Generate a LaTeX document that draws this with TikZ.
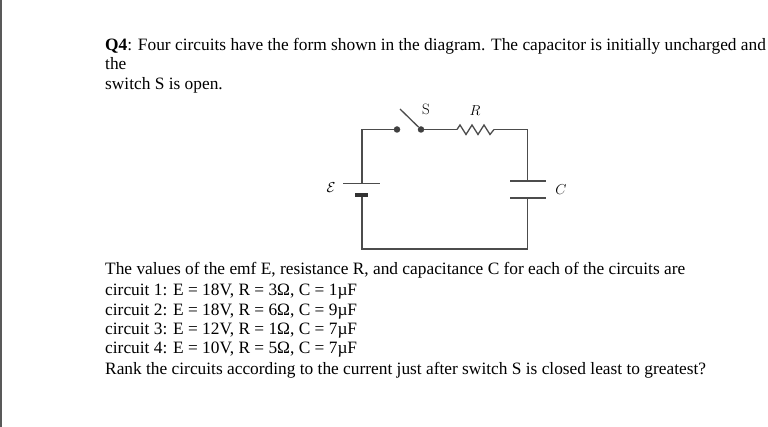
\documentclass[tikz,border=0pt]{standalone}
\usepackage{fontspec}
\setmainfont{Liberation Serif}
\newfontfamily\lmfont{Latin Modern Roman}
\tikzset{
	txt/.style={anchor=base west, inner sep=0pt, font=\fontsize{17.35}{20}\selectfont},
	lbl/.style={inner sep=0pt, font=\lmfont\fontsize{15}{17}\selectfont},
	wire/.style={draw=black!70, line width=1.3pt},
	dot/.style={circle, fill=black!75, inner sep=0pt, minimum size=6.5pt},
}
\begin{document}
\begin{tikzpicture}[x=1pt,y=-1pt]
		\useasboundingbox (0,0) rectangle (768,427);
		\fill [black!65] (0,0) rectangle (1.6,427);

		\node [txt] (q1) at (105,51) {\textbf{Q4}: Four circuits have the form shown in the diagram. The capacitor is initially uncharged and};
		\node [txt] (q2) at (105,70) {the};
		\node [txt] (q3) at (105,90) {switch S is open.};

		\coordinate (tl) at (362,129.5);
		\coordinate (tr) at (527.5,129.5);
		\coordinate (bl) at (362,249);
		\coordinate (br) at (527.5,249);
		\coordinate (batlong) at (362,183.5);
		\coordinate (batshort) at (362,195);
		\coordinate (captop) at (527.5,181);
		\coordinate (capbot) at (527.5,198);
		\coordinate (resl) at (457,129.5);
		\coordinate (resr) at (494,129.5);
		\coordinate (arm) at (400,109);

		\node [dot] (swl) at (397,129.5) {};
		\node [dot] (swr) at (421,129.5) {};

		\draw [wire] (batlong) -- (tl) -- (swl);
		\draw [wire] (swr) -- (resl);
		\draw [wire] (resl) -- ++(3,-4.5) -- ++(6,9.5) -- ++(6,-9.5) -- ++(6,9.5) -- ++(6,-9.5) -- ++(6,9.5) -- (resr);
		\draw [wire] (resr) -- (tr) -- (captop);
		\draw [wire] (capbot) -- (br) -- (bl) -- (batshort);
		\draw [wire] (arm) -- (swr);

		\draw [wire] (343,183.5) -- (380,183.5);
		\fill [black!80] (355,193.2) rectangle (368,197);
		\draw [wire] (510,181) -- (546,181);
		\draw [wire] (510,198) -- (546,198);

		\node [lbl] (S) at (426,109) {S};
		\node [lbl] (R) at (475,111) {$R$};
		\node [lbl] (C) at (561,190) {$C$};
		\node [lbl] (E) at (331,188) {$\mathcal{E}$};

		\node [txt] (v0) at (105,275) {The values of the emf E, resistance R, and capacitance C for each of the circuits are};
		\node [txt] (v1) at (105,296) {circuit 1: E = 18V, R = 3Ω, C = 1µF};
		\node [txt] (v2) at (105,316) {circuit 2: E = 18V, R = 6Ω, C = 9µF};
		\node [txt] (v3) at (105,335) {circuit 3: E = 12V, R = 1Ω, C = 7µF};
		\node [txt] (v4) at (105,354) {circuit 4: E = 10V, R = 5Ω, C = 7µF};
		\node [txt] (v5) at (105,374) {Rank the circuits according to the current just after switch S is closed least to greatest?};
	\end{tikzpicture}
\end{document}
